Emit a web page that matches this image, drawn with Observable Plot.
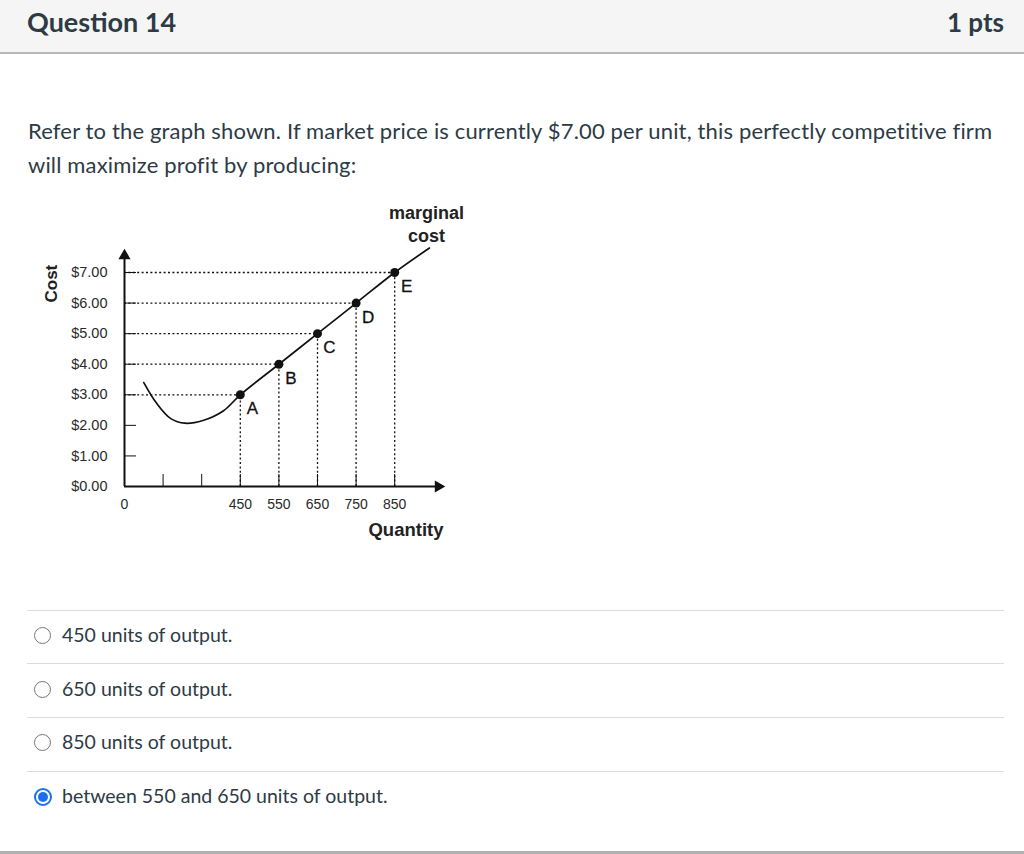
<!DOCTYPE html>
<html><head><meta charset="utf-8">
<script src="https://cdn.jsdelivr.net/npm/d3@7"></script>
<script src="https://cdn.jsdelivr.net/npm/@observablehq/plot@0.6"></script>
<style>
body{margin:0;background:#fff;font-family:Lato,"Noto Sans",sans-serif;color:#2d3b45;width:1024px;height:854px;position:relative;overflow:hidden}
.header{position:absolute;left:0;top:0;width:1024px;height:52px;background:#f5f5f5;border-bottom:2px solid #b8b8b8}
.qtitle{position:absolute;left:27px;top:7px;font-size:27px;font-weight:700;line-height:30px}
.pts{position:absolute;right:20px;top:7px;font-size:26px;font-weight:700;line-height:30px}
.qtext{position:absolute;left:28px;top:114px;width:980px;font-size:22px;letter-spacing:0.15px;line-height:34px}
#chart{position:absolute;left:30px;top:195px}
.sep{position:absolute;left:27px;width:977px;height:1px;background:#dcdcdc}
.ans{position:absolute;left:62px;font-size:19.5px;line-height:24px}
.radio{position:absolute;left:34px;width:15px;height:15px;border:1.5px solid #777;border-radius:50%;box-sizing:content-box}
.radio.sel{border:2px solid #1e6ff0;width:14px;height:14px}
.radio.sel::after{content:"";position:absolute;left:2px;top:2px;width:10px;height:10px;border-radius:50%;background:#1e6ff0}
.footer{position:absolute;left:0;top:851px;width:1024px;height:3px;background:#b0b0b0}
</style>
</head><body>
<div class="header"><div class="qtitle">Question 14</div><div class="pts">1 pts</div></div>
<div class="qtext">Refer to the graph shown. If market price is currently $7.00 per unit, this perfectly competitive firm will maximize profit by producing:</div>
<div id="chart"></div>
<div class="sep" style="top:610px"></div>
<div class="radio" style="top:627px"></div><div class="ans" style="top:623px">450 units of output.</div>
<div class="sep" style="top:663px"></div>
<div class="radio" style="top:681px"></div><div class="ans" style="top:677px">650 units of output.</div>
<div class="sep" style="top:717px"></div>
<div class="radio" style="top:734px"></div><div class="ans" style="top:730px">850 units of output.</div>
<div class="sep" style="top:771px"></div>
<div class="radio sel" style="top:788px"></div><div class="ans" style="top:784px">between 550 and 650 units of output.</div>
<div class="footer"></div>
<script>
const yTicks = [0, 1, 2, 3, 4, 5, 6, 7];
const xTickValues = [0, 150, 300, 450, 550, 650, 750, 850];
const xLabelValues = [0, 450, 550, 650, 750, 850];
const mcQuantity = [75, 125, 180, 235, 305, 385, 450, 550, 650, 750, 850, 940];
const mcCost = [3.4, 2.72, 2.22, 2.07, 2.16, 2.48, 3, 4, 5, 6, 7, 7.8];
const pointLabels = ["A", "B", "C", "D", "E"];
const pointQuantity = [450, 550, 650, 750, 850];
const pointCost = [3, 4, 5, 6, 7];
const xAxisEnd = [963];
const yAxisEnd = [7.55];

const mc = mcQuantity.map((q, i) => ({q, c: mcCost[i]}));
const pts = pointLabels.map((l, i) => ({l, q: pointQuantity[i], c: pointCost[i]}));

const W = 460, H = 360, ML = 94, MR = 47, MT = 77, MB = 69;
const step = 38.6; // pixels per tick interval on the drawn quantity axis
const ink = "#111";
const dots = "2,2.4";

const chart = Plot.plot({
  width: W, height: H,
  marginLeft: ML, marginRight: MR, marginTop: MT, marginBottom: MB,
  style: {fontFamily: "'Liberation Sans', Arial, sans-serif", color: "#222", background: "transparent"},
  x: {type: "linear", domain: [0, 450, 850], range: [ML, ML + 3 * step, ML + 7 * step]},
  y: {domain: [0, 7]},
  marks: [
    Plot.ruleY(pts, {y: "c", x1: 0, x2: "q", stroke: ink, strokeWidth: 1.3, strokeDasharray: dots}),
    Plot.ruleX(pts, {x: "q", y1: 0, y2: "c", stroke: ink, strokeWidth: 1.3, strokeDasharray: dots}),
    Plot.ruleY([0], {x1: 0, x2: xAxisEnd[0], stroke: ink, strokeWidth: 2}),
    Plot.ruleX([0], {y1: 0, y2: yAxisEnd[0], stroke: ink, strokeWidth: 2}),
    Plot.dot(xAxisEnd, {x: d => d, y: 0, symbol: "triangle", r: 4.5, fill: ink, stroke: null, rotate: 90}),
    Plot.dot(yAxisEnd, {x: 0, y: d => d, symbol: "triangle", r: 4.5, fill: ink, stroke: null}),
    Plot.axisY(yTicks, {tickSize: 0, tickPadding: 17, tickFormat: d => "$" + d.toFixed(2), fontSize: 14.5, label: null, fill: "#2a2a2a"}),
    Plot.axisY(yTicks, {tickSize: -12, tickFormat: () => "", label: null, stroke: ink}),
    Plot.axisX(xTickValues, {tickSize: -12, tickFormat: () => "", label: null, stroke: ink}),
    Plot.axisX(xLabelValues, {tickSize: 0, tickPadding: 13, fontSize: 14, label: null, fill: "#2a2a2a"}),
    Plot.line(mc, {x: "q", y: "c", curve: "catmull-rom", stroke: ink, strokeWidth: 1.7}),
    Plot.dot(pts, {x: "q", y: "c", r: 4.5, fill: ink, stroke: null}),
    Plot.text(pts, {x: "q", y: "c", text: "l", dx: 12, dy: 14, fontSize: 17, fill: ink, stroke: ink, strokeWidth: 0.3}),
    Plot.text([mc[mc.length - 1]], {x: "q", y: "c", text: () => "marginal\ncost", textAnchor: "middle", lineAnchor: "bottom", dx: -3, dy: -6, fontSize: 18, fontWeight: "bold", fill: "#222", lineHeight: 1.3}),
    Plot.text(["Quantity"], {frameAnchor: "bottom-right", text: d => d, dy: 49, fontSize: 18.5, fontWeight: "bold", fill: "#222"}),
    Plot.text(["Cost"], {frameAnchor: "top-left", text: d => d, rotate: -90, textAnchor: "start", lineAnchor: "middle", dx: -73, dy: 30, fontSize: 17, fontWeight: "bold", fill: "#222"})
  ]
});
document.getElementById("chart").appendChild(chart);
</script>
</body></html>
